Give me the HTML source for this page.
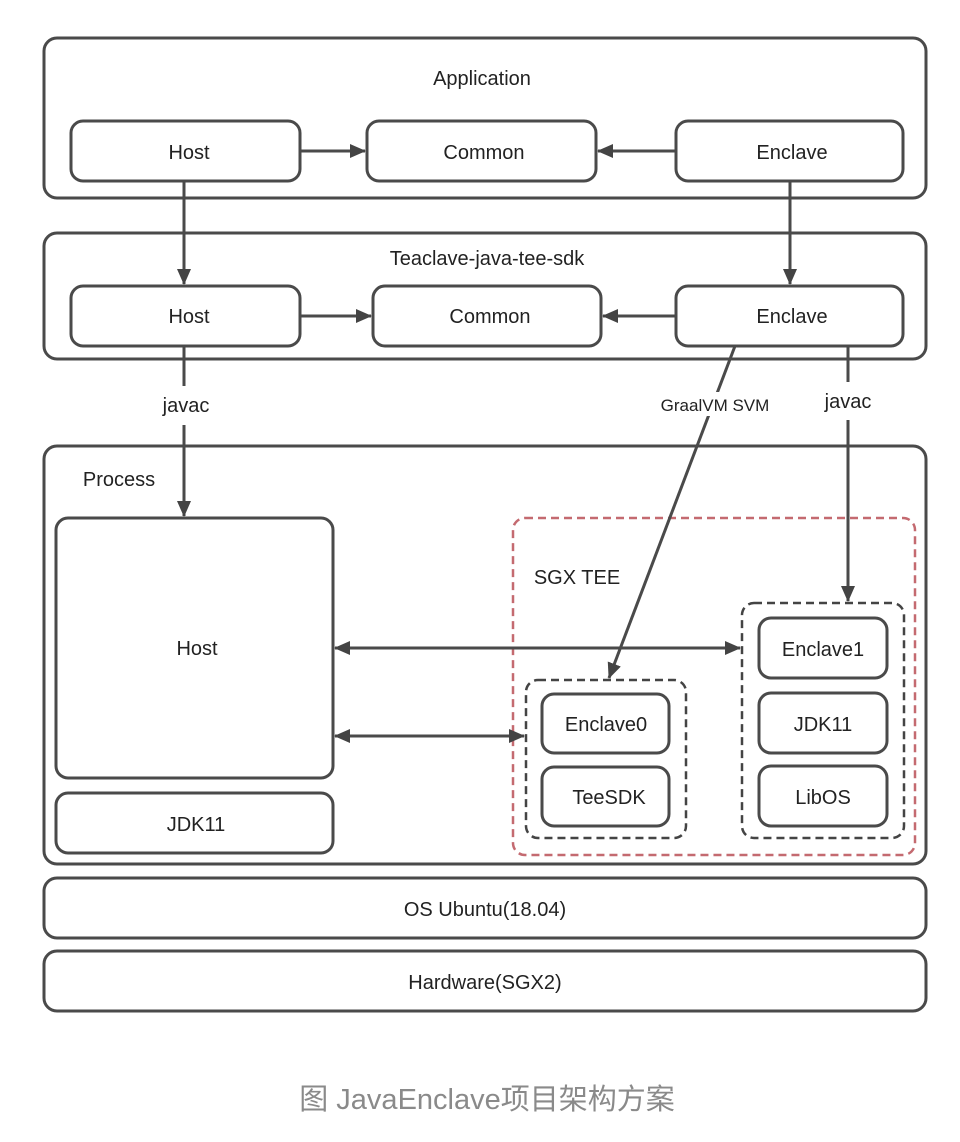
<!DOCTYPE html>
<html><head><meta charset="utf-8"><style>
html,body{margin:0;padding:0;background:#fff;}
svg{display:block;}
text{font-family:"Liberation Sans","Noto Sans CJK SC",sans-serif;fill:#222;}
</style></head><body>
<svg width="960" height="1142" viewBox="0 0 960 1142" xmlns="http://www.w3.org/2000/svg">
<defs>
<marker id="a" markerWidth="16" markerHeight="14" refX="15" refY="7" orient="auto" markerUnits="userSpaceOnUse" viewBox="0 0 16 14">
<path d="M0,0 L16,7 L0,14 z" fill="#444"/></marker>
<marker id="as" markerWidth="16" markerHeight="14" refX="1" refY="7" orient="auto" markerUnits="userSpaceOnUse" viewBox="0 0 16 14">
<path d="M16,0 L0,7 L16,14 z" fill="#444"/></marker>
</defs>
<g fill="none" stroke="#4a4a4a" stroke-width="3">
<rect x="44" y="38" width="882" height="160" rx="13"/>
<rect x="71" y="121" width="229" height="60" rx="12"/>
<rect x="367" y="121" width="229" height="60" rx="12"/>
<rect x="676" y="121" width="227" height="60" rx="12"/>
<rect x="44" y="233" width="882" height="126" rx="13"/>
<rect x="71" y="286" width="229" height="60" rx="12"/>
<rect x="373" y="286" width="228" height="60" rx="12"/>
<rect x="676" y="286" width="227" height="60" rx="12"/>
<rect x="44" y="446" width="882" height="418" rx="13"/>
<rect x="56" y="518" width="277" height="260" rx="12"/>
<rect x="56" y="793" width="277" height="60" rx="12"/>
<rect x="44" y="878" width="882" height="60" rx="13"/>
<rect x="44" y="951" width="882" height="60" rx="13"/>
<rect x="542" y="694" width="127" height="59" rx="12"/>
<rect x="542" y="767" width="127" height="59" rx="12"/>
<rect x="759" y="618" width="128" height="60" rx="12"/>
<rect x="759" y="693" width="128" height="60" rx="12"/>
<rect x="759" y="766" width="128" height="60" rx="12"/>
</g>
<rect x="513" y="518" width="402" height="337" rx="12" fill="none" stroke="#c46a70" stroke-width="2.5" stroke-dasharray="8 5"/>
<g fill="none" stroke="#444" stroke-width="2.5" stroke-dasharray="8 5">
<rect x="526" y="680" width="160" height="158" rx="12"/>
<rect x="742" y="603" width="162" height="235" rx="12"/>
</g>
<g stroke="#4a4a4a" stroke-width="3" fill="none">
<line x1="300" y1="151" x2="365" y2="151" marker-end="url(#a)"/>
<line x1="676" y1="151" x2="598" y2="151" marker-end="url(#a)"/>
<line x1="300" y1="316" x2="371" y2="316" marker-end="url(#a)"/>
<line x1="676" y1="316" x2="603" y2="316" marker-end="url(#a)"/>
<line x1="184" y1="181" x2="184" y2="284" marker-end="url(#a)"/>
<line x1="790" y1="181" x2="790" y2="284" marker-end="url(#a)"/>
<line x1="184" y1="346" x2="184" y2="386"/>
<line x1="184" y1="425" x2="184" y2="516" marker-end="url(#a)"/>
<line x1="848" y1="346" x2="848" y2="382"/>
<line x1="848" y1="420" x2="848" y2="601" marker-end="url(#a)"/>
<line x1="735" y1="346" x2="609" y2="678" marker-end="url(#a)"/>
<line x1="335" y1="648" x2="740" y2="648" marker-end="url(#a)" marker-start="url(#as)"/>
<line x1="335" y1="736" x2="524" y2="736" marker-end="url(#a)" marker-start="url(#as)"/>
</g>
<rect x="650" y="392" width="130" height="24" fill="#fff"/>
<g font-size="20" text-anchor="middle">
<text x="482" y="85">Application</text>
<text x="189" y="159">Host</text>
<text x="484" y="159">Common</text>
<text x="792" y="159">Enclave</text>
<text x="487" y="265">Teaclave-java-tee-sdk</text>
<text x="189" y="323">Host</text>
<text x="490" y="323">Common</text>
<text x="792" y="323">Enclave</text>
<text x="186" y="412">javac</text>
<text x="848" y="408">javac</text>
<text x="715" y="411" font-size="17">GraalVM SVM</text>
<text x="119" y="486">Process</text>
<text x="197" y="655">Host</text>
<text x="196" y="831">JDK11</text>
<text x="577" y="584">SGX TEE</text>
<text x="606" y="731">Enclave0</text>
<text x="609" y="804">TeeSDK</text>
<text x="823" y="656">Enclave1</text>
<text x="823" y="731">JDK11</text>
<text x="823" y="804">LibOS</text>
<text x="485" y="916">OS Ubuntu(18.04)</text>
<text x="485" y="989">Hardware(SGX2)</text>
<text x="487" y="1109" font-size="29" style="fill:#8a8a8a">图 JavaEnclave项目架构方案</text>
</g>
</svg>
</body></html>
